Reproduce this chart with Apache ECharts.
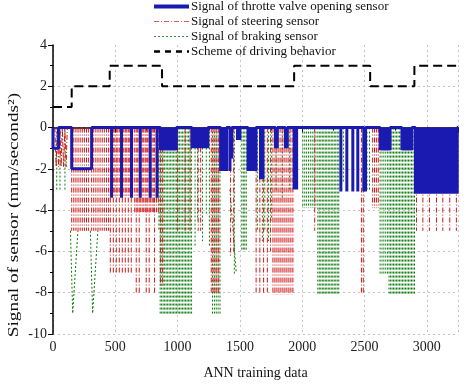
<!DOCTYPE html>
<html><head><meta charset="utf-8">
<script src="https://cdn.jsdelivr.net/npm/echarts@6/dist/echarts.min.js"></script>
<style>html,body{margin:0;padding:0;background:#fff}#c{width:474px;height:385px}</style>
</head><body><div id="c"></div>
<script>
const seriesNames = ['Signal of throtte valve opening sensor','Signal of steering sensor','Signal of braking sensor','Scheme of driving behavior'];
const xAxisTitle = 'ANN training data';
const yAxisTitle = 'Signal of sensor (mm/seconds\u00B2)';

// Scheme of driving behavior (step line): [x, level]
const schemeSteps = [[0,1],[150,2],[455,3],[875,2],[1935,3],[2545,2],[2900,3],[3250,3]];

// Throttle: plateaus [x0, x1, depth] and spikes [x, depth]
const throttlePlateaus = [[0,45,-1],[150,310,-2]];
const throttleSpikes = [
 [470,-3.4],[550,-3.4],[630,-3.4],[700,-3.4],[780,-3.4],[835,-3.4],
 [862,-1.1],[878,-1.1],[894,-1.1],[910,-1.1],[926,-1.1],[942,-1.1],[958,-1.1],[974,-1.1],[990,-1.1],
 [1115,-1],[1131,-1],[1147,-1],[1163,-1],[1179,-1],[1195,-1],[1211,-1],[1227,-1],[1243,-1],
 [1345,-2.1],[1361,-2.1],[1377,-2.1],[1393,-2.1],[1420,-2.1],[1435,-1.5],
 [1480,-0.6],[1500,-0.6],
 [1565,-2.1],[1581,-2.1],[1597,-2.1],[1613,-2.1],[1629,-2.1],
 [1665,-2.5],[1685,-2.5],
 [1785,-1],[1800,-1],[1865,-1],[1880,-1],[1935,-3],[1955,-3],
 [2310,-3.1],[2358,-3.1],[2406,-3.1],[2446,-3.1],[2494,-3.1],[2508,-3.1],
 [2625,-1.1],[2641,-1.1],[2657,-1.1],[2673,-1.1],[2689,-1.1],[2705,-1.1],
 [2800,-1.1],[2816,-1.1],[2832,-1.1],[2848,-1.1],[2864,-1.1],[2880,-1.1],
 [2908,-3.2],[2924,-3.2],[2940,-3.2],[2956,-3.2],[2972,-3.2],[2988,-3.2],[3004,-3.2],[3020,-3.2],
 [3036,-3.2],[3052,-3.2],[3068,-3.2],[3084,-3.2],[3100,-3.2],[3116,-3.2],[3132,-3.2],[3148,-3.2],
 [3164,-3.2],[3180,-3.2],[3196,-3.2],[3212,-3.2],[3228,-3.2],[3244,-3.2]
];

// Steering: zigzag path and spikes [x, depth]
const steeringZigzag = [[15,0],[25,-1.9],[35,0],[45,-1.9],[55,0],[65,-1.9],[75,0],[85,-1.9],[95,0],[105,-1.9],[115,0]];
const steeringSpikes = [
 [150,-5],[167,-5],[184,-5],[201,-5],[218,-5],[235,-5],[252,-5],[269,-5],[286,-5],
 [310,-5],[327,-5],[344,-5],[361,-5],[378,-5],[395,-5],[412,-5],[429,-5],[446,-5],
 [460,-7.1],[472,-3.4],[484,-7.1],[496,-3.4],[508,-7.1],[520,-3.4],[532,-7.1],[544,-3.4],
 [556,-7.1],[568,-3.4],[580,-7.1],[592,-3.4],[604,-7.1],[616,-3.4],[628,-7.1],[640,-3.4],
 [656,-4.1],[668,-8],[680,-4.1],[692,-8],[704,-4.1],[716,-4.1],[728,-4.1],[740,-4.1],[748,-8],
 [760,-4.1],[772,-8],[784,-4.1],[796,-4.1],[808,-4.1],[815,-8],[830,-4.1],[845,-4.1],
 [862,-7.7],[880,-7.7],
 [1000,-5],[1060,-5],[1100,-5],[1165,-5],[1185,-5],
 [1270,-8],[1285,-8],[1300,-8],[1315,-8],[1330,-8],
 [1425,-6.3],[1450,-6],
 [1630,-8],[1660,-8],[1690,-8],[1720,-8],[1745,-6],
 [1765,-8.1],[1781,-8.1],[1797,-8.1],[1813,-8.1],[1829,-8.1],[1845,-8.1],[1861,-8.1],[1877,-8.1],[1893,-8.1],[1909,-8.1],[1925,-8.1],
 [2100,-5],
 [2475,-8],[2490,-8],
 [2565,-3.9],[2580,-3.9],[2595,-3.9],[2610,-3.9],
 [2917,-5],[2968,-5],[3021,-5],[3077,-5],[3128,-5],[3184,-5],[3237,-5]
];

// Braking: diagonal paths and spikes [x, depth]
const brakingPaths = [
 [[140,-5],[158,-9],[200,-5]],
 [[300,-5],[318,-9],[360,-5]],
 [[1420,-3],[1470,-7]]
];
const brakingSpikes = [
 [30,-3.1],[56,-3.1],[96,-3.1],
 [850,-5],
 [860,-9.1],[872,-9.1],[884,-9.1],[896,-9.1],[908,-9.1],[920,-9.1],[932,-9.1],[944,-9.1],[956,-9.1],[968,-9.1],[980,-9.1],
 [992,-9.1],[1004,-9.1],[1016,-9.1],[1028,-9.1],[1040,-9.1],[1052,-9.1],[1064,-9.1],[1076,-9.1],[1088,-9.1],[1100,-9.1],[1112,-9.1],
 [1140,-5.8],[1160,-4.5],[1200,-5.5],[1230,-4.2],[1255,-5.8],
 [1280,-9.1],[1295,-9.1],[1310,-9.1],[1325,-9.1],[1340,-9.1],
 [1455,-7.1],
 [1515,-6],[1527,-6],[1539,-6],[1551,-6],
 [1640,-5],[1680,-5.5],[1700,-5],[1730,-5.5],[1755,-4.5],
 [1790,-3],[1840,-3.5],[1900,-3],
 [2005,-3.9],[2020,-3.9],[2035,-3.9],[2050,-3.9],[2065,-3.9],[2080,-3.9],[2095,-3.9],[2110,-3.9],
 [2125,-8.1],[2137,-8.1],[2149,-8.1],[2161,-8.1],[2173,-8.1],[2185,-8.1],[2197,-8.1],[2209,-8.1],
 [2221,-8.1],[2233,-8.1],[2245,-8.1],[2257,-8.1],[2269,-8.1],[2281,-8.1],[2293,-8.1],
 [2310,-2.7],[2330,-2.7],
 [2505,-3.1],[2520,-3.1],[2540,-3.1],
 [2625,-7.1],[2640,-7.1],[2655,-7.1],[2670,-7.1],[2685,-7.1],
 [2697,-8.1],[2709,-8.1],[2721,-8.1],[2733,-8.1],[2745,-8.1],[2757,-8.1],[2769,-8.1],[2781,-8.1],[2793,-8.1],
 [2805,-8.1],[2817,-8.1],[2829,-8.1],[2841,-8.1],[2853,-8.1],[2865,-8.1],[2877,-8.1],[2889,-8.1],[2901,-8.1]
];

// ---- build line data ----
function throttleData() {
  const feats = throttlePlateaus.map(p => ({x0:p[0], x1:p[1], d:p[2]}))
    .concat(throttleSpikes.map(s => ({x0:s[0], x1:s[0], d:s[1]})))
    .sort((a,b) => a.x0 - b.x0);
  const out = [];
  feats.forEach(f => { out.push([f.x0,0],[f.x0,f.d],[f.x1,f.d],[f.x1,0]); });
  out.push([3250,0]);
  return out;
}
function spikeData(spikes, paths) {
  const out = [];
  paths.forEach(p => { p.forEach(pt => out.push(pt)); out.push([p[p.length-1][0], null]); });
  spikes.forEach(s => { out.push([s[0],0],[s[0],s[1]],[s[0],null]); });
  return out;
}

const font = 'Liberation Serif';
const colors = {throttle:'#1a1ab0', steering:'#cc1818', braking:'#0c7a0c', scheme:'#000'};
const chart = echarts.init(document.getElementById('c'), null, {renderer:'canvas'});
chart.setOption({
  animation: false,
  backgroundColor: '#fff',
  grid: {left: 53, right: 16, top: 45, bottom: 43, containLabel: false},
  legend: {
    data: [
      {name: seriesNames[0], lineStyle: {width: 4, color: colors.throttle, type: 'solid'}},
      {name: seriesNames[1], lineStyle: {width: 1, color: '#d85a5a', type: [5,2,1,2]}},
      {name: seriesNames[2], lineStyle: {width: 1, color: '#3a8a3a', type: [2,2]}},
      {name: seriesNames[3], lineStyle: {width: 2.5, color: '#000', type: [6,5]}}
    ],
    orient: 'vertical', left: 152, top: 0, padding: 0,
    itemGap: 2, itemWidth: 35, itemHeight: 14,
    itemStyle: {opacity: 0},
    textStyle: {fontFamily: font, fontSize: 13, color: '#111', padding: [0,0,0,-3]}
  },
  xAxis: {
    type: 'value', min: 0, max: 3250, interval: 500,
    name: xAxisTitle, nameLocation: 'middle', nameGap: 32,
    nameTextStyle: {fontFamily: font, fontSize: 14, color: '#111'},
    axisLine: {lineStyle: {color: '#000', width: 1.5}},
    axisTick: {length: 5, lineStyle: {color: '#000'}},
    minorTick: {show: true, splitNumber: 2, length: 3, lineStyle: {color: '#000'}},
    axisLabel: {fontFamily: font, fontSize: 14, color: '#222', margin: 6, showMaxLabel: false, formatter: v => String(v)},
    splitLine: {show: true, lineStyle: {color: '#c4c4c4', type: [2,3], width: 1}}
  },
  yAxis: {
    type: 'value', min: -10, max: 4, interval: 2,
    axisLine: {show: true, lineStyle: {color: '#000', width: 1.5}},
    axisTick: {show: true, length: 5, lineStyle: {color: '#000'}},
    minorTick: {show: true, splitNumber: 2, length: 3, lineStyle: {color: '#000'}},
    axisLabel: {fontFamily: font, fontSize: 14, color: '#222', margin: 6, formatter: v => String(v)},
    splitLine: {show: true, showMaxLine: false, lineStyle: {color: '#c4c4c4', type: [2,3], width: 1}}
  },
  graphic: [{
    type: 'text', rotation: Math.PI/2, x: 14, y: 215, scaleX: 1.38, scaleY: 1,
    style: {text: yAxisTitle, font: '14px "Liberation Serif"', fill: '#111', textAlign: 'center', textVerticalAlign: 'middle'}
  }],
  series: [
    {name: seriesNames[2], type: 'line', symbol: 'none', showSymbol: false, z: 2,
     data: spikeData(brakingSpikes, brakingPaths), connectNulls: false,
     itemStyle: {color: colors.braking},
     lineStyle: {color: colors.braking, width: 1, type: [2,2]}},
    {name: seriesNames[1], type: 'line', symbol: 'none', showSymbol: false, z: 3,
     data: spikeData(steeringSpikes, [steeringZigzag]), connectNulls: false,
     itemStyle: {color: colors.steering},
     lineStyle: {color: colors.steering, width: 1, type: [5,2,1,2]}},
    {name: seriesNames[0], type: 'line', symbol: 'none', showSymbol: false, z: 4,
     data: throttleData(),
     itemStyle: {color: colors.throttle},
     lineStyle: {color: colors.throttle, width: 3}},
    {name: seriesNames[3], type: 'line', symbol: 'none', showSymbol: false, z: 5, step: 'end',
     data: schemeSteps,
     itemStyle: {color: colors.scheme},
     lineStyle: {color: colors.scheme, width: 2, type: [9,5]}}
  ]
});
</script></body></html>
